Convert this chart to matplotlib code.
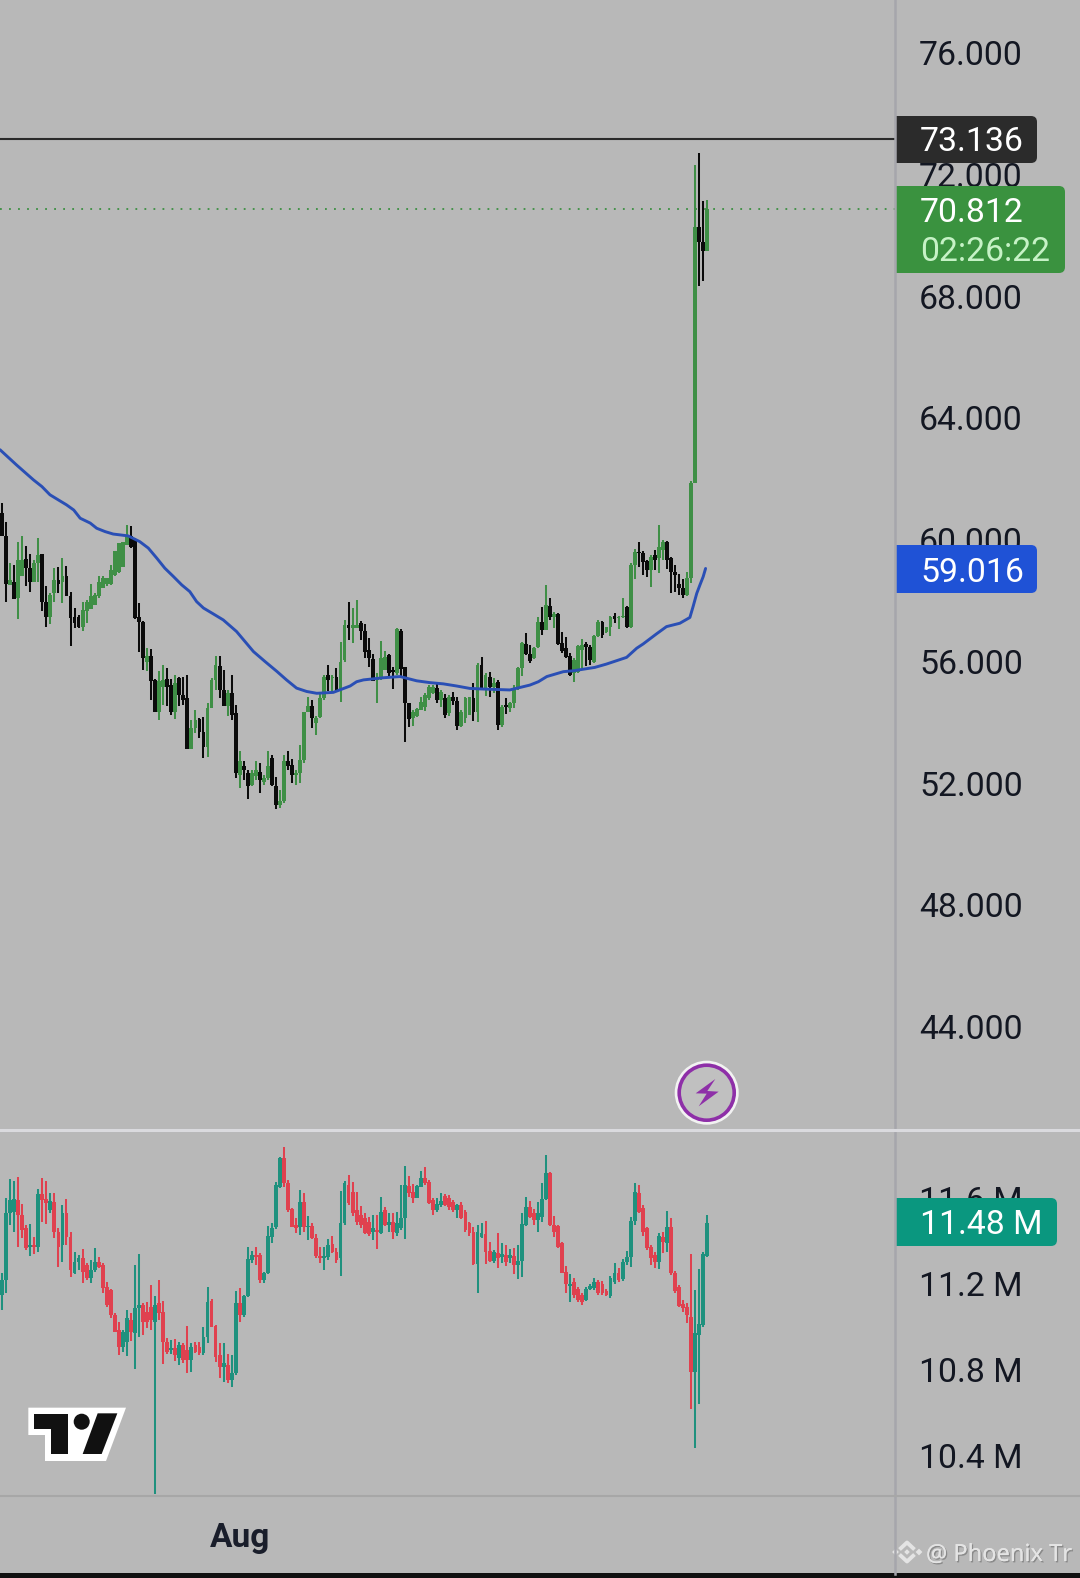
import numpy as np
import matplotlib
matplotlib.use("Agg")
import matplotlib.pyplot as plt
import matplotlib.patheffects as pe
from matplotlib.patches import FancyBboxPatch, Polygon, Rectangle, Circle
from matplotlib.transforms import ScaledTranslation

plt.rcParams['font.family'] = ['Roboto', 'DejaVu Sans']

# ---------- price panel data ----------
price_dir = ("kkgkggkkgg" "kkggkgkkkk" "gggggggggg" "ggkkkkgkkg" "gkkgkkkggk"
             "kgggkkgkkg" "kkggkggkkg" "gkkggggkgg" "gkgkggkggk" "kkkgggkkgk"
             "kkggggggkg" "kgkkgggkgk" "gkgkgkgggg" "kkggkgkgkk" "kkgggkkggk"
             "ggkggkggkk" "kgkggkkkkk" "gggkkg")
price_high = [61.16,60.56,59.19,59.14,59.90,60.07,59.76,59.50,59.30,60.01,
 59.50,58.43,58.21,59.03,59.06,59.36,59.11,58.26,57.72,57.50,
 57.93,57.99,58.51,58.21,58.76,58.76,58.70,59.14,59.58,59.85,
 59.90,60.45,60.40,60.01,57.88,57.28,56.40,56.37,55.38,55.64,
 55.85,55.75,55.38,55.53,55.45,55.47,55.53,54.05,54.38,54.10,
 54.14,54.60,55.42,56.13,56.13,55.67,55.03,55.53,54.54,53.01,
 52.71,52.41,52.41,52.68,52.62,52.24,53.04,52.90,52.17,51.75,
 52.90,53.04,52.76,52.41,53.23,54.32,54.81,54.70,54.16,54.92,
 55.53,55.85,55.53,55.75,56.62,57.33,57.93,57.71,57.98,57.31,
 57.20,56.73,56.21,55.58,56.65,56.32,56.21,55.79,57.05,57.02,
 55.79,54.61,54.37,54.43,54.81,54.92,55.19,55.19,55.30,55.03,
 54.90,54.86,54.97,54.79,54.37,54.81,54.81,55.27,55.90,56.10,
 55.58,55.63,55.41,55.36,54.54,54.75,54.65,55.19,55.79,56.62,
 56.91,56.51,56.45,57.44,57.77,58.48,58.04,57.60,57.57,56.94,
 56.76,56.25,56.07,56.51,56.69,56.60,56.51,56.83,57.33,57.31,
 57.11,57.46,57.55,57.46,58.04,57.79,59.19,59.65,59.90,59.60,
 59.30,59.46,59.63,60.45,59.95,59.93,59.41,59.13,58.84,58.66,
 58.91,61.90,72.27,72.68,71.09,71.12]
price_top = [60.84,60.09,58.65,58.59,59.30,59.30,59.32,59.03,59.19,59.47,
 59.50,57.93,58.15,58.65,58.65,58.76,58.76,58.10,57.42,57.42,
 57.66,57.93,58.10,58.15,58.59,58.70,58.70,58.97,59.58,59.85,
 59.90,60.12,60.07,59.98,57.44,57.25,56.13,56.13,55.36,55.31,
 55.36,55.38,55.20,55.25,55.42,54.87,54.76,53.77,54.05,54.07,
 53.66,54.43,55.36,55.85,55.82,55.03,54.92,54.92,54.27,52.68,
 52.54,52.30,52.30,52.41,52.35,52.13,52.52,52.79,51.88,51.37,
 52.68,52.71,52.57,52.30,52.74,54.32,54.49,54.49,54.10,54.76,
 55.47,55.53,55.47,55.47,55.96,57.17,57.17,57.16,57.16,57.22,
 56.98,56.34,56.04,55.41,56.07,56.12,56.18,55.69,57.02,56.98,
 55.77,54.59,54.32,54.39,54.65,54.86,55.14,55.14,55.10,54.97,
 54.75,54.81,54.81,54.68,54.32,54.75,54.81,54.75,55.85,55.85,
 55.52,55.47,55.25,55.30,54.48,54.54,54.59,55.08,55.74,56.56,
 56.54,56.21,56.40,57.27,57.27,57.82,57.79,57.52,57.52,56.56,
 56.40,56.15,56.01,56.47,56.51,56.54,56.43,56.80,57.27,57.27,
 57.09,57.41,57.46,57.44,57.46,57.74,59.13,59.57,59.57,59.52,
 59.28,59.41,59.46,59.74,59.90,59.90,59.35,58.91,58.51,58.37,
 58.70,61.83,70.25,70.25,69.75,70.81]
price_bot = [60.09,58.51,58.48,58.01,58.04,58.76,59.03,58.59,58.59,59.19,
 57.93,57.44,57.44,58.21,58.51,58.59,58.10,57.39,57.22,57.11,
 57.11,57.61,57.68,57.82,58.10,58.37,58.51,58.51,58.81,58.92,
 59.08,59.80,59.74,57.39,57.25,56.07,55.96,55.31,54.32,54.32,
 55.14,55.14,54.32,54.32,54.87,54.70,53.08,53.08,53.77,53.66,
 53.17,53.17,54.43,55.36,55.03,54.49,54.49,54.21,52.30,52.24,
 52.41,51.88,51.91,52.19,52.08,52.02,52.13,51.91,51.26,51.26,
 51.37,52.54,52.24,52.24,52.30,52.74,54.32,54.10,53.94,54.14,
 54.76,55.36,55.42,55.01,55.01,56.02,57.06,57.05,57.05,56.98,
 56.29,56.07,55.34,55.36,55.41,55.69,55.58,55.63,55.58,55.71,
 54.59,54.07,54.10,54.17,54.37,54.48,54.75,54.94,54.70,54.70,
 54.21,54.26,54.68,53.85,53.85,54.10,54.21,54.32,54.32,55.03,
 55.03,55.14,55.14,53.88,53.88,54.48,54.43,54.59,55.08,55.74,
 56.21,55.99,56.07,56.45,57.00,57.00,57.41,57.44,56.54,56.32,
 56.10,55.52,55.58,55.63,56.34,56.43,56.01,55.96,56.80,56.83,
 56.94,57.09,57.35,57.38,57.41,57.09,57.09,59.13,59.52,59.24,
 58.97,58.97,59.30,59.35,59.63,59.30,58.91,58.81,58.37,58.15,
 58.15,58.70,61.83,69.75,69.45,69.45]
price_low = [60.09,57.93,58.48,58.01,57.35,58.76,58.43,58.26,58.59,58.59,
 57.61,57.11,57.20,57.93,58.21,57.88,58.10,56.48,57.06,57.06,
 56.95,57.22,57.68,57.82,58.04,58.37,58.43,58.48,58.76,58.86,
 59.08,59.80,59.69,57.35,56.26,55.69,55.64,54.70,54.32,54.03,
 54.54,54.49,54.21,54.07,54.51,54.54,53.08,53.08,53.61,53.45,
 52.79,52.82,54.43,55.03,54.76,54.49,54.16,54.05,52.15,51.80,
 52.08,51.44,51.86,52.08,51.64,51.91,52.08,51.88,51.11,51.15,
 51.31,52.41,51.99,51.91,51.99,52.62,54.32,53.77,53.56,54.10,
 54.70,55.01,54.92,54.97,54.65,55.96,56.68,56.56,57.05,56.67,
 56.07,55.77,55.34,54.61,55.36,55.69,55.47,55.05,55.52,55.47,
 53.33,53.80,53.85,54.15,54.37,54.34,54.70,54.90,54.61,54.48,
 54.10,54.17,54.54,53.71,53.80,53.93,54.21,54.02,53.99,55.03,
 54.83,54.81,54.92,53.71,53.80,54.24,54.32,54.43,55.03,55.49,
 56.18,55.90,56.04,56.40,56.83,57.00,57.33,57.05,56.51,56.23,
 56.07,55.49,55.30,55.58,55.74,55.82,55.85,55.90,56.78,56.73,
 56.89,56.80,57.24,57.02,57.38,57.05,57.05,58.66,59.08,58.81,
 58.73,58.40,58.97,58.86,59.30,58.99,58.20,58.26,58.15,58.04,
 58.12,58.55,61.83,68.31,68.47,69.45]

# moving average, read at a subset of bars
ma_idx = [-0.5,3.6,7.8,9.9,11.9,14,16,17.8,19.4,21.9,23.5,25.6,27.6,31.3,34.2,36.3,38.4,40.4,42.5,
          44.6,46.6,48.3,50,52.4,54.9,58.2,60.3,62.4,65.3,68.2,70.6,73.1,75.6,78.1,82.2,86.4,
          88,89.7,94.6,98.8,102.9,106.2,109.5,112.8,116.1,119.4,126,131,133.1,135.2,139.3,141.8,
          144.2,147.1,150,152.5,155,157.5,159.1,162.4,164.9,168.2,170.7,171.5,172.4,173.2,174,174.6]
ma_val = [62.92,62.42,61.93,61.71,61.44,61.27,61.11,60.94,60.67,60.51,60.34,60.23,60.15,60.09,59.90,59.69,59.36,59.03,58.76,
          58.48,58.26,57.93,57.72,57.53,57.33,56.95,56.62,56.29,55.96,55.64,55.36,55.09,54.98,54.92,54.95,55.16,
          55.30,55.36,55.43,55.47,55.33,55.27,55.23,55.16,55.08,55.06,55.03,55.19,55.30,55.47,55.63,55.66,
          55.71,55.77,55.88,55.99,56.10,56.40,56.54,56.87,57.11,57.22,57.41,57.77,58.20,58.48,58.75,59.02]

resistance = 73.136
last_price = 70.812
ma_last = 59.016
price_ticks = [44, 48, 52, 56, 60, 64, 68, 72, 76]

# ---------- indicator panel data ----------
ind_dir = ("ggggrrrgrg" "rrgrrgrrgg" "rrggrrrrrr" "ggrggrrrgr" "rrgrgrrgrr"
           "ggrrrgrggr" "gggrrggggg" "rrrrgrgrrr" "ggrrggrrrr" "rrgrgrgrgg"
           "grrggrrrgg" "rrrgrrrrgg" "rrgrgrgrgg" "grrgggrrrr" "rgrrrgggrr"
           "rggrggggrr" "rrrgrgrrrr" "rrgggg")
ind_high = [11.245,11.596,11.684,11.678,11.697,11.569,11.471,11.476,11.413,11.638,
 11.689,11.678,11.622,11.619,11.456,11.565,11.591,11.440,11.347,11.331,
 11.357,11.292,11.308,11.362,11.323,11.292,11.206,11.170,11.058,11.019,
 10.980,11.074,11.058,11.284,11.336,11.105,11.113,11.191,11.139,11.214,
 11.118,10.942,10.934,10.937,10.926,10.918,10.999,10.918,10.926,10.926,
 10.996,11.180,11.124,11.004,10.918,10.918,10.868,10.864,11.164,11.175,
 11.144,11.370,11.351,11.370,11.339,11.253,11.466,11.482,11.674,11.790,
 11.837,11.681,11.549,11.502,11.635,11.622,11.513,11.482,11.429,11.370,
 11.370,11.404,11.420,11.362,11.632,11.678,11.705,11.674,11.627,11.560,
 11.526,11.507,11.518,11.518,11.603,11.554,11.526,11.526,11.533,11.658,
 11.747,11.700,11.663,11.658,11.725,11.741,11.681,11.596,11.596,11.622,
 11.616,11.611,11.588,11.569,11.580,11.541,11.487,11.460,11.471,11.479,
 11.491,11.393,11.354,11.435,11.389,11.378,11.357,11.362,11.378,11.526,
 11.603,11.585,11.544,11.580,11.669,11.798,11.720,11.513,11.471,11.393,
 11.280,11.242,11.222,11.180,11.152,11.180,11.195,11.222,11.214,11.211,
 11.170,11.233,11.295,11.269,11.311,11.351,11.510,11.669,11.658,11.565,
 11.463,11.378,11.347,11.435,11.440,11.538,11.502,11.258,11.191,11.121,
 11.105,11.336,11.167,11.264,11.347,11.518]
ind_top = [11.214,11.526,11.588,11.591,11.588,11.518,11.456,11.378,11.378,11.616,
 11.616,11.591,11.585,11.580,11.440,11.526,11.526,11.417,11.300,11.315,
 11.315,11.284,11.261,11.300,11.300,11.284,11.183,11.167,11.051,10.980,
 10.973,11.035,11.027,11.082,11.097,11.097,11.066,11.089,11.097,11.105,
 11.066,10.926,10.895,10.895,10.910,10.910,10.887,10.903,10.910,10.903,
 10.949,11.113,11.118,10.999,10.864,10.825,10.817,10.778,11.105,11.105,
 11.139,11.311,11.331,11.331,11.331,11.245,11.420,11.456,11.658,11.783,
 11.783,11.666,11.544,11.471,11.580,11.580,11.466,11.466,11.409,11.326,
 11.326,11.378,11.382,11.347,11.479,11.666,11.658,11.627,11.541,11.518,
 11.502,11.487,11.456,11.448,11.533,11.541,11.487,11.487,11.479,11.502,
 11.658,11.653,11.627,11.653,11.689,11.689,11.674,11.588,11.569,11.585,
 11.607,11.596,11.580,11.565,11.565,11.533,11.479,11.440,11.440,11.432,
 11.429,11.351,11.347,11.342,11.336,11.331,11.331,11.326,11.304,11.476,
 11.554,11.554,11.529,11.526,11.591,11.713,11.716,11.471,11.466,11.389,
 11.253,11.195,11.206,11.170,11.144,11.170,11.186,11.206,11.206,11.195,
 11.164,11.222,11.245,11.245,11.300,11.323,11.491,11.627,11.619,11.549,
 11.456,11.367,11.331,11.420,11.417,11.463,11.463,11.248,11.183,11.102,
 11.089,11.043,10.965,11.008,11.336,11.482]
ind_bot = [11.144,11.214,11.526,11.533,11.518,11.448,11.362,11.370,11.370,11.370,
 11.588,11.572,11.541,11.440,11.370,11.378,11.417,11.261,11.245,11.300,
 11.253,11.222,11.222,11.261,11.273,11.175,11.097,11.051,10.973,10.903,
 10.903,10.926,10.973,10.965,11.082,11.019,11.019,11.027,11.019,11.058,
 10.926,10.879,10.887,10.864,10.848,10.840,10.840,10.840,10.879,10.871,
 10.871,10.949,10.996,10.856,10.806,10.806,10.747,10.747,10.778,11.051,
 11.051,11.139,11.308,11.323,11.214,11.214,11.245,11.417,11.463,11.650,
 11.666,11.541,11.463,11.456,11.463,11.463,11.460,11.409,11.326,11.315,
 11.315,11.323,11.347,11.308,11.315,11.479,11.572,11.526,11.487,11.471,
 11.432,11.429,11.440,11.440,11.432,11.471,11.471,11.440,11.432,11.456,
 11.502,11.619,11.596,11.596,11.650,11.666,11.572,11.541,11.541,11.565,
 11.565,11.557,11.541,11.541,11.502,11.448,11.432,11.289,11.289,11.413,
 11.347,11.304,11.304,11.315,11.320,11.300,11.315,11.284,11.284,11.304,
 11.471,11.507,11.494,11.494,11.507,11.591,11.471,11.440,11.370,11.248,
 11.195,11.186,11.144,11.121,11.113,11.121,11.170,11.175,11.152,11.152,
 11.144,11.139,11.206,11.214,11.217,11.300,11.323,11.491,11.533,11.440,
 11.362,11.315,11.300,11.300,11.393,11.389,11.245,11.164,11.093,11.082,
 11.051,10.786,10.786,10.957,11.004,11.326]
ind_low = [11.074,11.152,11.471,11.440,11.370,11.409,11.354,11.326,11.336,11.347,
 11.487,11.476,11.526,11.409,11.273,11.300,11.378,11.230,11.242,11.261,
 11.202,11.214,11.199,11.253,11.269,11.152,11.089,11.035,10.973,10.864,
 10.879,10.859,10.931,10.797,10.949,10.957,10.988,10.980,10.214,11.027,
 10.822,10.868,10.868,10.837,10.817,10.825,10.778,10.786,10.871,10.864,
 10.864,10.918,10.996,10.832,10.755,10.739,10.731,10.713,10.770,11.019,
 11.043,11.136,11.292,11.284,11.199,11.202,11.242,11.389,11.451,11.642,
 11.650,11.533,11.460,11.432,11.424,11.440,11.401,11.404,11.315,11.292,
 11.261,11.308,11.339,11.292,11.233,11.471,11.565,11.513,11.471,11.456,
 11.429,11.420,11.401,11.357,11.429,11.466,11.440,11.404,11.420,11.448,
 11.404,11.603,11.575,11.596,11.647,11.658,11.569,11.518,11.533,11.554,
 11.560,11.541,11.533,11.502,11.498,11.440,11.420,11.284,11.155,11.409,
 11.289,11.300,11.295,11.269,11.292,11.280,11.292,11.242,11.217,11.227,
 11.466,11.502,11.471,11.440,11.487,11.588,11.466,11.413,11.362,11.245,
 11.152,11.113,11.128,11.113,11.097,11.118,11.167,11.167,11.144,11.144,
 11.139,11.128,11.195,11.206,11.211,11.284,11.273,11.471,11.526,11.420,
 11.354,11.284,11.269,11.264,11.342,11.347,11.237,11.155,11.089,11.066,
 11.015,10.610,10.428,10.635,10.996,11.323]
ind_ticks = [10.4, 10.8, 11.2, 11.6]
aug_bar = 59

# ---------- figure ----------
BG = '#b8b8b8'
W, H = 1080, 1578
fig = plt.figure(figsize=(W / 100, H / 100), dpi=100, facecolor=BG)

def frame(top, bottom, right=895):
    return [0, 1 - bottom / H, right / W, (bottom - top) / H]

ax = fig.add_axes(frame(0, 1129), facecolor=BG)
ax2 = fig.add_axes(frame(1130, 1495), facecolor=BG)
XLIM = (-0.496, 221.6)

def candles(a, dirs, hi, top, bot, lo, up_key, up_col, dn_col, wick, width):
    idx = np.arange(len(hi))
    cols = [up_col if d == up_key else dn_col for d in dirs]
    a.vlines(idx, lo, hi, colors=cols, linewidth=wick, zorder=3)
    a.bar(idx, np.array(top) - np.array(bot), bottom=bot, width=width,
          color=cols, linewidth=0, zorder=3)

TEXT = '#131722'
FS = 24.3
candles(ax, price_dir, price_high, price_top, price_bot, price_low,
        'g', '#3f8f46', '#0b0b0b', 1.45, 0.95)
ax.plot(ma_idx, ma_val, color='#2a4fb5', lw=2.1, zorder=4, solid_capstyle='round')
ax.axhline(resistance, color='#2a2a2a', lw=1.5, zorder=2)
ax.axhline(last_price, color='#3a8f40', lw=1.3, ls=(0, (1, 4)), zorder=2)
ax.set_xlim(*XLIM)
ax.set_ylim(40.61, 77.69)
ax.set_xticks([])
ax.yaxis.tick_right()
ax.set_yticks(price_ticks, [f'{v:.3f}' for v in price_ticks])
ax.tick_params(axis='y', length=0, pad=17.4, labelsize=FS, labelcolor=TEXT)

candles(ax2, ind_dir, ind_high, ind_top, ind_bot, ind_low,
        'g', '#1f917e', '#e0414f', 1.45, 0.95)
ax2.set_xlim(*XLIM)
ax2.set_ylim(10.209, 11.915)
ax2.yaxis.tick_right()
ax2.set_yticks(ind_ticks, [f'{v:.1f} M' for v in ind_ticks])
ax2.tick_params(axis='y', length=0, pad=17.4, labelsize=FS, labelcolor=TEXT)
ax2.set_xticks([aug_bar], ['Aug'])
ax2.tick_params(axis='x', length=0, pad=19.3, labelsize=24, labelcolor='#1a1e2b')
for lab in ax2.get_xticklabels():
    lab.set_fontweight('bold')
shift = ScaledTranslation(0, -1 / 100, fig.dpi_scale_trans)
for a in (ax, ax2):
    for lab in a.get_yticklabels():
        lab.set_transform(lab.get_transform() + shift)
    for s in a.spines.values():
        s.set_visible(False)

# ---------- overlay in pixel coordinates: badges, logos, frame lines ----------
ov = fig.add_axes([0, 0, 1, 1], zorder=5)
ov.set_xlim(0, W)
ov.set_ylim(H, 0)
ov.axis('off')
ov.patch.set_alpha(0)

ov.plot([895, 895], [0, 1574], color='#a6a6ac', lw=1.8)
ov.plot([0, W], [1129.5, 1129.5], color='#dadade', lw=2.2)
ov.plot([0, W], [1495.5, 1495.5], color='#a7a7a7', lw=1.5)
ov.add_patch(Rectangle((0, 1573), W, 6, color='#101010', lw=0))

def badge(x0, x1, y0, y1, col):
    ov.add_patch(FancyBboxPatch((x0 + 6, y0 + 6), x1 - x0 - 12, y1 - y0 - 12,
                                boxstyle='round,pad=6,rounding_size=6',
                                facecolor=col, edgecolor='none', mutation_aspect=1))
    ov.add_patch(Rectangle((x0, y0), 10, y1 - y0, facecolor=col, edgecolor='none'))

def label(x, y, s, col):
    ov.text(x, y, s, color=col, fontsize=FS, ha='left', va='center_baseline')

badge(896, 1037, 116, 163, '#2b2b2b')
label(920, 138.5, '73.136', 'white')
badge(896, 1065, 186, 273, '#3a923f')
label(920, 209, '70.812', 'white')
label(920, 248, '02:26:22', '#c6f2c6')
badge(896, 1037, 545, 593, '#1f52d6')
label(920, 569, f'{ma_last:.3f}', 'white')
badge(896, 1057, 1198, 1246, '#0a977f')
label(920, 1221, '11.48 M', 'white')

# TradingView mark
ov.add_patch(Polygon(np.array([(85, 83), (378, 83), (318, 243), (135, 243), (135, 165), (85, 165)]) / 3 + (0, 1380),
                     facecolor='white', edgecolor='none', zorder=3))
ov.add_patch(Polygon(np.array([(102, 102), (205, 102), (205, 222), (152, 222), (152, 148), (102, 148)]) / 3 + (0, 1380),
                     facecolor='#111111', edgecolor='none', zorder=4))
ov.add_patch(Polygon(np.array([(293, 100), (352, 100), (305, 222), (248, 222)]) / 3 + (0, 1380),
                     facecolor='#111111', edgecolor='none', zorder=4))
ov.add_patch(Circle((81.7, 1421.7), 8, facecolor='#111111', edgecolor='none', zorder=4))

# lightning button
ov.add_patch(Circle((706.7, 1092.7), 32, facecolor='#f2f2f2', edgecolor='none', zorder=3))
ov.add_patch(Circle((706.7, 1092.7), 27.5, facecolor='#c0c0c0', edgecolor='#8e2fa8', lw=2.6, zorder=4))
ov.add_patch(Polygon(np.array([(196, 117), (137, 160), (170, 161), (146, 199), (206, 155), (172, 153)]) / 3 + (650, 1040),
                     facecolor='#8e2fa8', edgecolor='none', zorder=5))

# watermark
WM = '#e4e4e4'
for cx, cy in [(895.5, 1552), (919, 1552), (907, 1552)]:
    r = 3.4 if cx != 907 else 2.8
    ov.add_patch(Polygon([(cx - r, cy), (cx, cy - r), (cx + r, cy), (cx, cy + r)], facecolor=WM, edgecolor='none'))
ov.plot([899.5, 907, 914.5], [1549.5, 1542.5, 1549.5], color=WM, lw=2.8, solid_capstyle='butt')
ov.plot([899.5, 907, 914.5], [1554.5, 1561.5, 1554.5], color=WM, lw=2.8, solid_capstyle='butt')
wm = ov.text(926, 1552, '@ Phoenix Tr', color=WM, fontsize=17, ha='left', va='center_baseline',
             family=['Noto Sans', 'DejaVu Sans'])
wm.set_path_effects([pe.withSimplePatchShadow(offset=(1, -1), shadow_rgbFace='#777777', alpha=0.7), pe.Normal()])

fig.savefig('out.png', dpi=100, facecolor=BG)
